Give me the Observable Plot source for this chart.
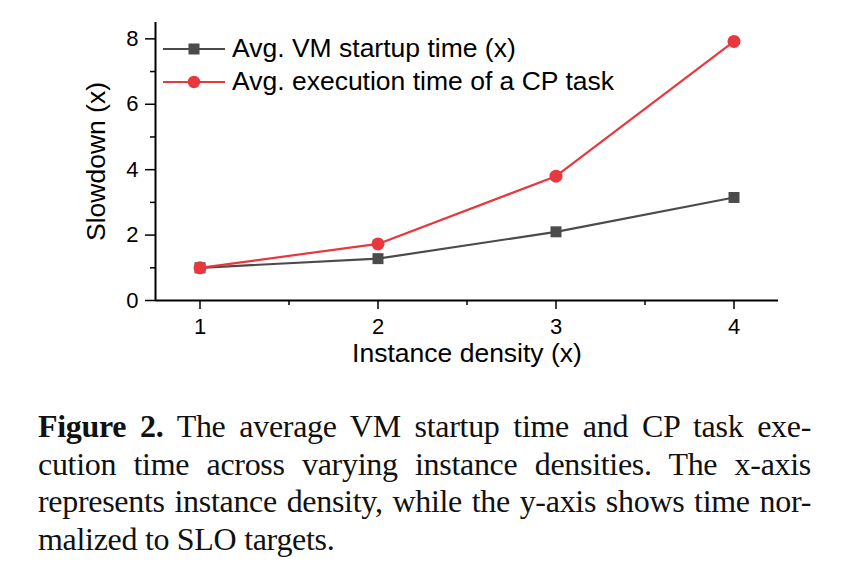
<!DOCTYPE html>
<html>
<head>
<meta charset="utf-8">
<script src="https://cdn.jsdelivr.net/npm/d3@7"></script>
<script src="https://cdn.jsdelivr.net/npm/@observablehq/plot@0.6"></script>
<style>
  html, body { margin: 0; padding: 0; background: #fff; }
  #wrap { position: relative; width: 849px; height: 567px; }
  #chart { position: absolute; left: 0; top: 0; }
  #legend { position: absolute; left: 163px; top: 32px; font-family: "Liberation Sans", Arial, sans-serif; font-size: 26.5px; color: #000; }
  .row { display: flex; align-items: center; height: 33px; }
  .row svg { margin-right: 7px; }
  #caption { position: absolute; left: 38px; top: 408px; width: 773px; font-family: "Liberation Serif", "DejaVu Serif", serif; font-size: 32px; letter-spacing: -0.3px; line-height: 37.7px; color: #111; }
  #caption .j { text-align: justify; text-align-last: justify; white-space: nowrap; }
  #caption .l { text-align: left; }
  #caption b { font-weight: bold; }
</style>
</head>
<body>
<div id="wrap">
  <div id="chart"></div>
  <div id="legend"></div>
  <div id="caption"></div>
</div>
<script>
const densities = [1, 2, 3, 4];
const vmStartup = [1.0, 1.28, 2.1, 3.15];
const cpExec = [1.0, 1.73, 3.8, 7.92];
const seriesNames = ["Avg. VM startup time (x)", "Avg. execution time of a CP task"];
const seriesColors = ["#4b4b4b", "#e8383d"];
const xMajor = [1, 2, 3, 4];
const xMinor = [1.5, 2.5, 3.5];
const yMajor = [0, 2, 4, 6, 8];
const yMinor = [1, 3, 5, 7];
const xTitle = "Instance density (x)";
const yTitle = "Slowdown (x)";
const captionLines = [
  "<b>Figure 2.</b> The average VM startup time and CP task exe-",
  "cution time across varying instance densities. The x-axis",
  "represents instance density, while the y-axis shows time nor-",
  "malized to SLO targets."
];

const vmData = densities.map((d, i) => ({x: d, y: vmStartup[i]}));
const cpData = densities.map((d, i) => ({x: d, y: cpExec[i]}));

const font = "Liberation Sans, Arial, sans-serif";
const xMin = 0.75, xMax = 4.25, yMin = 0, yMax = 8.5;

const plot = Plot.plot({
  width: 849,
  height: 380,
  marginLeft: 155,
  marginRight: 71,
  marginTop: 22,
  marginBottom: 80,
  style: {fontFamily: font, color: "#000", background: "transparent"},
  x: {type: "linear", domain: [xMin, xMax], axis: null},
  y: {type: "linear", domain: [yMin, yMax], axis: null},
  marks: [
    // ticks
    Plot.axisX({ticks: xMajor, tickSize: 9, tickFormat: () => "", label: null, strokeWidth: 1.5}),
    Plot.axisX({ticks: xMinor, tickSize: 5, tickFormat: () => "", label: null, strokeWidth: 1.5}),
    Plot.axisY({ticks: yMajor, tickSize: 10, tickFormat: () => "", label: null, strokeWidth: 1.5}),
    Plot.axisY({ticks: yMinor, tickSize: 5, tickFormat: () => "", label: null, strokeWidth: 1.5}),
    // tick labels
    Plot.text(xMajor, {x: d => d, y: () => yMin, text: d => String(d), dy: 26, fontSize: 22, fill: "#000"}),
    Plot.text(yMajor, {x: () => xMin, y: d => d, text: d => String(d), dx: -17, textAnchor: "end", fontSize: 22, fill: "#000"}),
    // axis lines
    Plot.ruleY([yMin], {strokeWidth: 2, stroke: "#000"}),
    Plot.ruleX([xMin], {strokeWidth: 2, stroke: "#000"}),
    // data
    Plot.line(vmData, {x: "x", y: "y", stroke: seriesColors[0], strokeWidth: 2.2}),
    Plot.line(cpData, {x: "x", y: "y", stroke: seriesColors[1], strokeWidth: 2.2}),
    Plot.dot(vmData, {x: "x", y: "y", symbol: "square", r: 6.2, fill: seriesColors[0]}),
    Plot.dot(cpData, {x: "x", y: "y", symbol: "circle", r: 6.5, fill: seriesColors[1]}),
    // titles
    Plot.text([xTitle], {frameAnchor: "bottom", lineAnchor: "bottom", dy: 61, fontSize: 26.5, fill: "#000"}),
    Plot.text([yTitle], {frameAnchor: "left", textAnchor: "middle", lineAnchor: "middle", dx: -59, rotate: -90, fontSize: 26.5, fill: "#000"})
  ]
});
document.getElementById("chart").appendChild(plot);

// legend
const legend = document.getElementById("legend");
seriesNames.forEach((name, i) => {
  const row = document.createElement("div");
  row.className = "row";
  const marker = i === 0
    ? `<rect x="25.5" y="10.5" width="11" height="11" fill="${seriesColors[i]}"/>`
    : `<circle cx="31" cy="16" r="6.2" fill="${seriesColors[i]}"/>`;
  row.innerHTML = `<svg width="62" height="32"><line x1="0" x2="62" y1="16" y2="16" stroke="${seriesColors[i]}" stroke-width="2.2"/>${marker}</svg><span>${name}</span>`;
  legend.appendChild(row);
});

// caption
const cap = document.getElementById("caption");
captionLines.forEach((t, i) => {
  const div = document.createElement("div");
  div.className = i < captionLines.length - 1 ? "j" : "l";
  div.innerHTML = t;
  cap.appendChild(div);
});
</script>
</body>
</html>
